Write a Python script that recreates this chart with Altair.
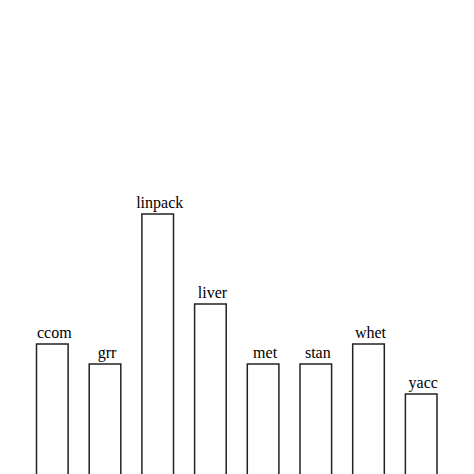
import altair as alt
import pandas as pd

names = ["ccom", "grr", "linpack", "liver", "met", "stan", "whet", "yacc"]
values = [15, 13, 28, 19, 13, 13, 15, 10]

df = pd.DataFrame({"name": names, "value": values})

x = alt.X("name:N", sort=names, axis=None,
          scale=alt.Scale(paddingInner=0.4, paddingOuter=0))
y = alt.Y("value:Q", axis=None,
          scale=alt.Scale(domain=[0, 46.4], nice=False, zero=True))

bars = alt.Chart(df).mark_bar(
    fill="white", stroke="#222222", strokeWidth=1.5
).encode(x=x, y=y)

labels = alt.Chart(df).mark_text(
    font="Liberation Serif", fontSize=16, baseline="alphabetic",
    align="center", dy=-6.5, dx=2, color="black"
).encode(x=x, y=y, text="name:N")

chart = alt.layer(bars, labels).properties(
    width=400.5, height=464,
    padding={"left": 28.5, "top": 22, "right": 29, "bottom": 0},
    autosize=alt.AutoSizeParams(type="none"),
    background="white",
).configure_view(stroke=None, strokeWidth=0)

chart.save("out.html", embed_options={"renderer": "svg", "actions": False})
